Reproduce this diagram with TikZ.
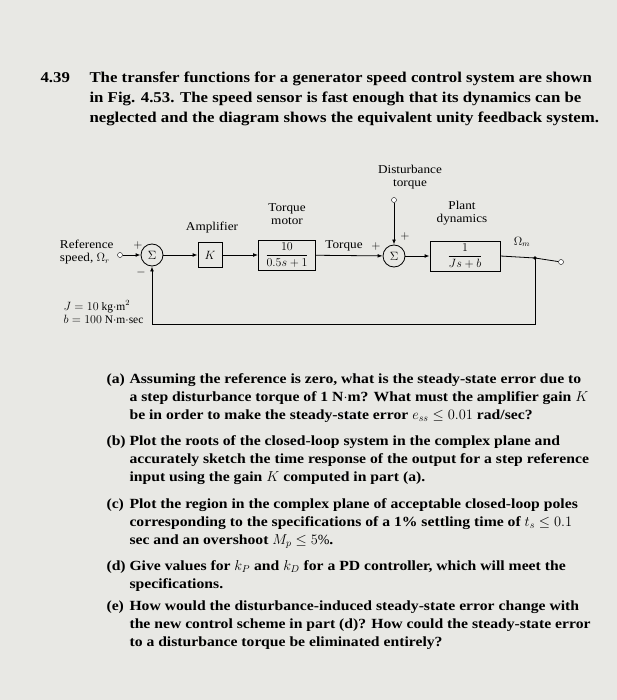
\documentclass[tikz,border=0pt]{standalone}
\usepackage{fontspec}
\setmainfont{Liberation Serif}
\newfontfamily\wide[FakeStretch=1.12]{Liberation Serif}
\newfontfamily\wideb[FakeStretch=1.1]{Liberation Serif}
\usetikzlibrary{arrows.meta}
\begin{document}
\begin{tikzpicture}[x=1pt,y=-1pt,
  blk/.style={draw,thick,minimum height=30pt,inner sep=2pt},
  sumn/.style={draw,thick,circle,minimum size=22pt,inner sep=0pt},
  term/.style={draw,circle,minimum size=5pt,inner sep=0pt,fill=white},
  lbl/.style={font=\wideb\fontsize{12}{13}\selectfont,align=center},
  ln/.style={anchor=base west,font=\wide\fontsize{14}{15}\selectfont\bfseries},
  tl/.style={anchor=base west,font=\wide\fontsize{15}{17}\selectfont\bfseries},
  sig/.style={thick,-{Latex[length=5pt]}},
  wire/.style={thick}]
\fill[fill={rgb,255:red,232;green,232;blue,228}] (0,0) rectangle (617,700);
\useasboundingbox (0,0) rectangle (617,700);
% title
\node[tl] (n439) at (37,83) {4.39};
\node[tl] (t1) at (86,83) {The transfer functions for a generator speed control system are shown};
\node[tl] (t2) at (86,103) {in Fig. 4.53. The speed sensor is fast enough that its dynamics can be};
\node[tl] (t3) at (86,123) {neglected and the diagram shows the equivalent unity feedback system.};
% diagram
\node[term] (ref) at (120,255) {};
\node[lbl,align=left,anchor=east] (reft) at (117,252) {Reference\\speed, $\Omega_r$};
\node[sumn] (s1) at (152,255) {\large$\Sigma$};
\node[blk,minimum width=24pt,minimum height=25pt] (K) at (210,255) {\large$K$};
\node[lbl] (ampt) at (212,228) {Amplifier};
\node[blk,minimum width=57pt] (tm) at (287,255) {\large$\displaystyle\frac{10}{0.5s+1}$};
\node[lbl] (tmt) at (287,214) {Torque\\motor};
\node[lbl,anchor=base] (tq) at (344,249) {Torque};
\node[sumn] (s2) at (394,256) {\large$\Sigma$};
\node[term] (dist) at (394,200) {};
\node[lbl] (distt) at (410,177) {Disturbance\\torque};
\node[blk,minimum width=70pt] (pl) at (465,256) {\large$\displaystyle\frac{1}{Js+b}$};
\node[lbl] (plt) at (462,213) {Plant\\dynamics};
\coordinate (br) at (535,258);
\node[term] (out) at (561,262) {};
\node[lbl] (om) at (522,242) {$\Omega_m$};
\coordinate (fb1) at (535,324);
\coordinate (fb2) at (152,324);
\node[lbl] (pl1) at (138,245) {$+$};
\node[lbl] (mi1) at (141,272) {$-$};
\node[lbl] (pl2) at (376,247) {$+$};
\node[lbl] (pl3) at (405,237) {$+$};
\node[lbl,anchor=west,align=left,font=\fontsize{11.5}{13}\selectfont] (jb) at (60,312) {$J=10$ kg$\cdot$m$^2$\\$b=100$ N$\cdot$m$\cdot$sec};
\draw[sig] (ref) -- (s1);
\draw[sig] (s1) -- (K);
\draw[sig] (K) -- (tm);
\draw[sig] (tm) -- (s2);
\draw[sig] (dist) -- (s2);
\draw[sig] (s2) -- (pl);
\draw[wire] (pl.east) -- (br) -- (out);
\fill (br) circle (1.8pt);
\draw[sig] (br) -- (fb1) -- (fb2) -- (s1);
% questions
\node[ln] (qa) at (103,383) {(a)};
\node[ln] (a1) at (126,383) {Assuming the reference is zero, what is the steady-state error due to};
\node[ln] (a2) at (126,401) {a step disturbance torque of 1 N$\cdot$m? What must the amplifier gain $K$};
\node[ln] (a3) at (126,419) {be in order to make the steady-state error $e_{ss}\le 0.01$ rad/sec?};
\node[ln] (qb) at (103,445) {(b)};
\node[ln] (b1) at (126,445) {Plot the roots of the closed-loop system in the complex plane and};
\node[ln] (b2) at (126,463) {accurately sketch the time response of the output for a step reference};
\node[ln] (b3) at (126,481) {input using the gain $K$ computed in part (a).};
\node[ln] (qc) at (103,508) {(c)};
\node[ln] (c1) at (126,508) {Plot the region in the complex plane of acceptable closed-loop poles};
\node[ln] (c2) at (126,526) {corresponding to the specifications of a 1\% settling time of $t_s\le 0.1$};
\node[ln] (c3) at (126,544) {sec and an overshoot $M_p\le 5\%$.};
\node[ln] (qd) at (103,570) {(d)};
\node[ln] (d1) at (126,570) {Give values for $k_P$ and $k_D$ for a PD controller, which will meet the};
\node[ln] (d2) at (126,588) {specifications.};
\node[ln] (qe) at (103,610) {(e)};
\node[ln] (e1) at (126,610) {How would the disturbance-induced steady-state error change with};
\node[ln] (e2) at (126,628) {the new control scheme in part (d)? How could the steady-state error};
\node[ln] (e3) at (126,646) {to a disturbance torque be eliminated entirely?};
\end{tikzpicture}
\end{document}
